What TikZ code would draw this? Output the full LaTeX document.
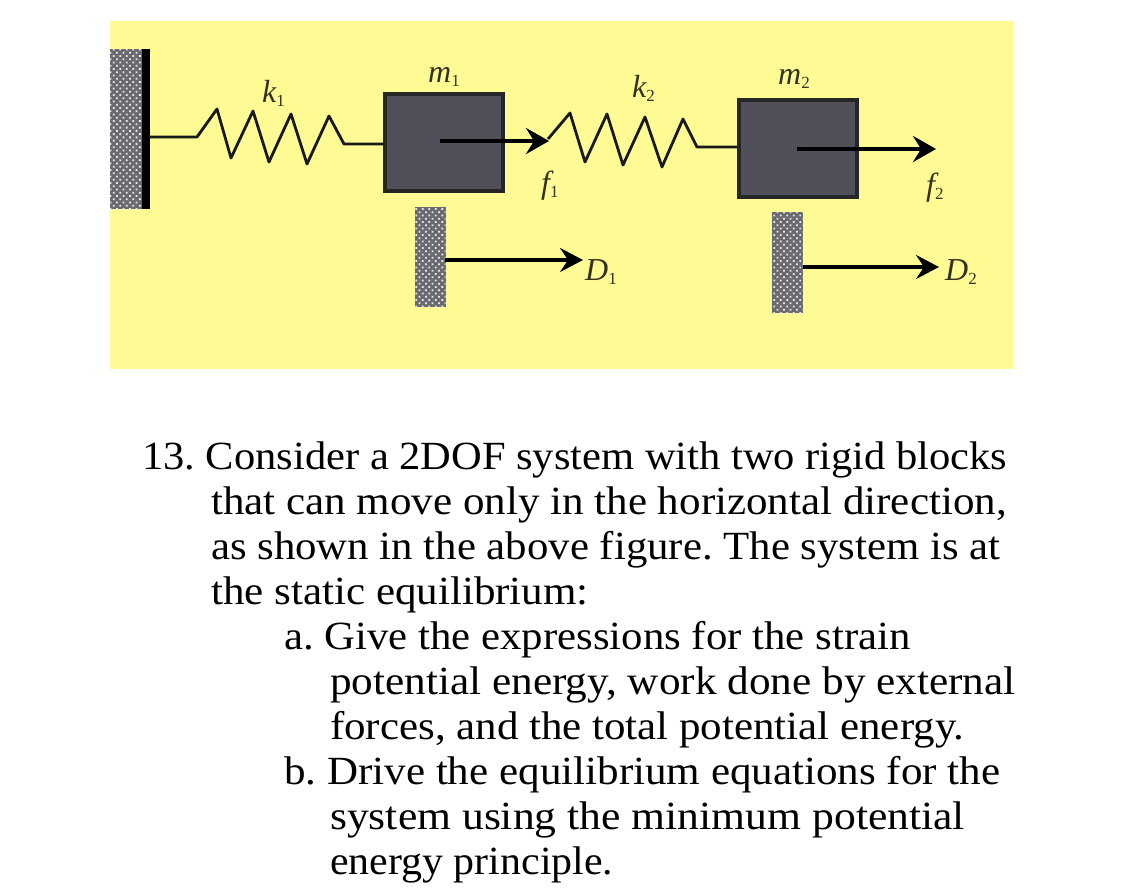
\documentclass[tikz,border=0pt]{standalone}
\usepackage{graphicx}
\usepackage{fontspec}
\setmainfont{Liberation Serif}
\usetikzlibrary{arrows.meta,patterns.meta}
\definecolor{panel}{HTML}{FFFB94}
\definecolor{blockc}{HTML}{50505A}
\definecolor{wallc}{HTML}{6A6A70}
\newfontfamily\bodyfont[FakeStretch=1.07]{Liberation Serif}
\newcommand{\lsub}[1]{\raisebox{-4pt}{\fontsize{17}{17}\selectfont\upshape #1}}
\newcommand{\fitx}[2]{\scalebox{#1}[1]{#2}}
\tikzset{
  panelbg/.style={fill=panel,draw=none},
  wallbox/.style={draw=none,inner sep=0pt,anchor=north west,minimum width=31pt,
    preaction={fill=wallc},pattern={Dots[distance=4.6pt,radius=1.25pt,angle=45]},pattern color=white!85!wallc},
  block/.style={fill=blockc,draw=black!85,line width=4pt,minimum width=118pt,minimum height=97pt,inner sep=0pt,anchor=center},
  wire/.style={draw=black!90,line width=2.8pt,line join=round},
  force/.style={draw=black,line width=4pt,-{Stealth[length=23pt,width=26pt,inset=8pt]}},
  disp/.style={draw=black,line width=3.2pt,-{Stealth[length=23pt,width=24pt,inset=8pt]}},
  lab/.style={anchor=base west,inner sep=0pt,text=black!80!panel,font=\fontsize{32}{34}\selectfont\itshape},
  txt/.style={anchor=base west,inner sep=0pt,font=\bodyfont\fontsize{40}{44}\selectfont\frenchspacing}
}
\begin{document}
\begin{tikzpicture}[x=1pt,y=-1pt]
\useasboundingbox (0,0) rectangle (1124,892);
\fill[white] (0,0) rectangle (1124,892);
\clip (0,0) rectangle (1124,892);
\node[panelbg,minimum width=903pt,minimum height=348pt,inner sep=0pt,anchor=north west] (panel) at (110,21) {};
% walls
\node[wallbox,minimum height=160pt,minimum width=32pt] (wall0) at (110,49) {};
\node[fill=black,minimum width=8pt,minimum height=160pt,inner sep=0pt,anchor=north west] (wallbar) at (142,49) {};
\node[wallbox,minimum height=100pt] (wall1) at (414.5,207) {};
\node[wallbox,minimum height=101pt] (wall2) at (772,212) {};
% blocks
\node[block] (m1) at (444,142.5) {};
\node[block] (m2) at (797.5,148.5) {};
% springs
\coordinate (s1a) at (149,137);
\coordinate (s1b) at (383,144);
\coordinate (s2a) at (548,139);
\coordinate (s2b) at (737,147);
\draw[wire] (s1a) -- (197,137) -- (217,109) -- (231,158) -- (253,111) -- (269,162) -- (291,114) -- (307,164) -- (329,116) -- (344,144) -- (s1b);
\draw[wire] (s2a) -- (570,113) -- (585,162) -- (607,114) -- (623,165) -- (645,117) -- (662,167) -- (683,119) -- (697,147) -- (s2b);
% arrows
\coordinate (f1s) at (440,141);
\coordinate (f1e) at (549,141);
\coordinate (f2s) at (797,149);
\coordinate (f2e) at (936,149);
\draw[force] (f1s) -- (f1e);
\draw[force] (f2s) -- (f2e);
\coordinate (d1s) at (445,260);
\coordinate (d1e) at (583,260);
\coordinate (d2s) at (803,267);
\coordinate (d2e) at (939,267);
\draw[disp] (d1s) -- (d1e);
\draw[disp] (d2s) -- (d2e);
% labels
\node[lab] (lm1) at (428,82) {m\lsub{1}};
\node[lab] (lm2) at (778,84) {m\lsub{2}};
\node[lab] (lk1) at (262,102) {k\lsub{1}};
\node[lab] (lk2) at (632,97) {k\lsub{2}};
\node[lab] (lf1) at (541,193) {f\lsub{1}};
\node[lab] (lf2) at (926,195) {f\lsub{2}};
\node[lab] (lD1) at (585,280) {D\lsub{1}};
\node[lab] (lD2) at (945,280) {D\lsub{2}};
% text
\node[txt] (t1) at (142,469) {\fitx{0.993}{13. Consider a 2DOF system with two rigid blocks}};
\node[txt] (t2) at (211,514) {\fitx{1.005}{that can move only in the horizontal direction,}};
\node[txt] (t3) at (211,559) {as shown in the above figure. The system is at};
\node[txt] (t4) at (211,604) {\fitx{1.005}{the static equilibrium:}};
\node[txt] (t5) at (284,649) {a. Give the expressions for the strain};
\node[txt] (t6) at (330,694) {\fitx{1.01}{potential energy, work done by external}};
\node[txt] (t7) at (330,739) {\fitx{1.003}{forces, and the total potential energy.}};
\node[txt] (t8) at (284,784) {\fitx{1.006}{b. Drive the equilibrium equations for the}};
\node[txt] (t9) at (330,829) {\fitx{1.019}{system using the minimum potential}};
\node[txt] (t10) at (330,874) {\fitx{0.979}{energy principle.}};
\end{tikzpicture}
\end{document}
